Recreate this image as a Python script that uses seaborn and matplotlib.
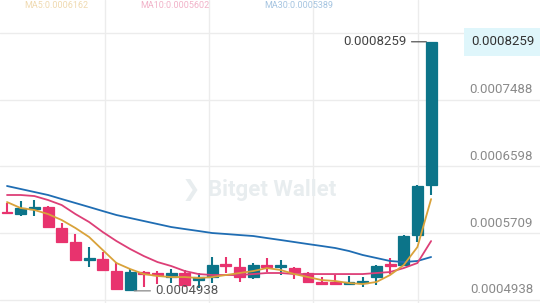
import matplotlib
matplotlib.use("Agg")
import matplotlib.pyplot as plt
import seaborn as sns
import pandas as pd
import numpy as np

# ---- data ----
opens = [0.0005989, 0.0005962, 0.0006029, 0.0006056, 0.0005776, 0.0005589, 0.0005349, 0.0005362,
         0.0005202, 0.0004952, 0.0005189, 0.0005176, 0.0005122, 0.0005176, 0.0005082, 0.0005122,
         0.0005296, 0.0005256, 0.0005122, 0.0005282, 0.0005256, 0.0005242, 0.0005176, 0.0005056,
         0.0005056, 0.0005029, 0.0005042, 0.0005122, 0.0005296, 0.0005282, 0.0005682, 0.0006349]
closes = [0.0005976, 0.0006042, 0.0006056, 0.0005789, 0.0005589, 0.0005349, 0.0005376, 0.0005216,
          0.0004962, 0.0005189, 0.0005162, 0.0005149, 0.0005176, 0.0005016, 0.0005122, 0.0005282,
          0.0005269, 0.0005122, 0.0005282, 0.0005256, 0.0005282, 0.0005189, 0.0005056, 0.0005029,
          0.0005029, 0.0005056, 0.0005069, 0.0005269, 0.0005269, 0.0005669, 0.0006336, 0.0008259]
highs = [0.0006109, 0.0006136, 0.0006149, 0.0006069, 0.0005842, 0.0005696, 0.0005522, 0.0005456,
         0.0005322, 0.0005229, 0.0005202, 0.0005202, 0.0005229, 0.0005216, 0.0005176, 0.0005389,
         0.0005389, 0.0005376, 0.0005309, 0.0005376, 0.0005349, 0.0005256, 0.0005189, 0.0005122,
         0.0005149, 0.0005136, 0.0005122, 0.0005282, 0.0005376, 0.0005682, 0.0006349, 0.0008259]
lows = [0.0005962, 0.0005936, 0.0005936, 0.0005776, 0.0005576, 0.0005336, 0.0005256, 0.0005202,
        0.0004950, 0.0004938, 0.0004989, 0.0005029, 0.0005042, 0.0004989, 0.0004976, 0.0005042,
        0.0005176, 0.0005056, 0.0005096, 0.0005189, 0.0005149, 0.0005096, 0.0005042, 0.0005029,
        0.0005029, 0.0005029, 0.0004989, 0.0005016, 0.0005162, 0.0005269, 0.0005589, 0.0006216]
ma5 = [0.0006122, 0.0006042, 0.0006016, 0.0005962, 0.0005882, 0.0005776, 0.0005656, 0.0005482,
       0.0005309, 0.0005229, 0.0005162, 0.0005136, 0.0005122, 0.0005122, 0.0005109, 0.0005122,
       0.0005149, 0.0005176, 0.0005202, 0.0005242, 0.0005216, 0.0005162, 0.0005122, 0.0005082,
       0.0005069, 0.0005042, 0.0005029, 0.0005056, 0.0005149, 0.0005282, 0.0005522, 0.0006162]
ma10 = [0.0006216, 0.0006216, 0.0006202, 0.0006149, 0.0006082, 0.0005962, 0.0005856, 0.0005722,
        0.0005602, 0.0005496, 0.0005402, 0.0005322, 0.0005269, 0.0005202, 0.0005162, 0.0005149,
        0.0005149, 0.0005149, 0.0005162, 0.0005176, 0.0005176, 0.0005162, 0.0005162, 0.0005162,
        0.0005162, 0.0005162, 0.0005162, 0.0005176, 0.0005189, 0.0005242, 0.0005309, 0.0005602]
ma30 = [0.0006336, 0.0006296, 0.0006256, 0.0006216, 0.0006162, 0.0006109, 0.0006056, 0.0006002,
        0.0005949, 0.0005909, 0.0005869, 0.0005829, 0.0005789, 0.0005762, 0.0005736, 0.0005709,
        0.0005696, 0.0005682, 0.0005669, 0.0005642, 0.0005616, 0.0005589, 0.0005562, 0.0005536,
        0.0005509, 0.0005469, 0.0005416, 0.0005376, 0.0005336, 0.0005322, 0.0005336, 0.0005389]
axis_labels = ["0.0007488", "0.0006598", "0.0005709", "0.0004938"]
grid_prices = [0.0008377, 0.0007488, 0.0006598, 0.0005709, 0.0004819]
last_price = "0.0008259"
max_label = "0.0008259"
min_label = "0.0004938"
legend_texts = ["MA5:0.0006162", "MA10:0.0005602", "MA30:0.0005389"]

UP = "#0c7489"
DOWN = "#e8336e"
C_MA5 = "#d9a23a"
C_MA10 = "#dd3f77"
C_MA30 = "#1f6db3"

sns.set_theme(style="white")
plt.rcParams["font.family"] = ["Roboto", "DejaVu Sans"]

fig = plt.figure(figsize=(5.4, 3.03), dpi=100)
ax = fig.add_axes([0, 0, 1, 1])
ax.set_xlim(-0.512, 38.96)
ax.set_ylim(0.0004776, 0.0008816)
for s in ax.spines.values():
    s.set_visible(False)

# grid
for g in grid_prices:
    ax.axhline(g, color="#ececec", lw=1, zorder=0)
for gx in [7.16, 14.77, 22.37, 30.04]:
    ax.axvline(gx, color="#ececec", lw=1, zorder=0)

# watermark
ax.text(0.337, 0.372, "\u276f", transform=ax.transAxes, fontsize=16, color="#e8edef",
        fontweight="bold", ha="left", va="center", zorder=0, family=["DejaVu Sans"])
ax.text(0.385, 0.372, "Bitget Wallet", transform=ax.transAxes, fontsize=16, color="#e8edef",
        fontweight="bold", ha="left", va="center", zorder=0)

idx = np.arange(len(opens))
df = pd.DataFrame({"i": idx, "open": opens, "close": closes, "high": highs, "low": lows,
                   "MA5": ma5, "MA10": ma10, "MA30": ma30})

# candles
for _, r in df.iterrows():
    col = UP if r["close"] >= r["open"] else DOWN
    ax.vlines(r["i"], r["low"], r["high"], color=col, lw=1.5, zorder=2)
    bottom = min(r["open"], r["close"])
    h = abs(r["close"] - r["open"])
    ax.bar(r["i"], h, bottom=bottom, width=0.8, color=col, edgecolor=col, lw=0.9, zorder=2)

# moving averages
sns.lineplot(data=df, x="i", y="MA30", color=C_MA30, lw=1.3, ax=ax, zorder=3)
sns.lineplot(data=df, x="i", y="MA10", color=C_MA10, lw=1.3, ax=ax, zorder=3)
sns.lineplot(data=df, x="i", y="MA5", color=C_MA5, lw=1.3, ax=ax, zorder=3)
ax.set_xlabel("")
ax.set_ylabel("")
ax.set_xticks([])
ax.set_yticks([])

# right axis labels (sit just above grid lines)
for lab, g in zip(axis_labels, grid_prices[1:]):
    ax.annotate(lab, xy=(1.0, g), xycoords=("axes fraction", "data"), xytext=(-5, 2.5),
                textcoords="offset points", ha="right", va="bottom", fontsize=9.5, color="#8a8a8a")

# last price highlighted label
top_i = int(np.argmax(highs))
ax.annotate(last_price, xy=(1.0, highs[top_i]), xycoords=("axes fraction", "data"), xytext=(-4, 0),
            textcoords="offset points", ha="right", va="center", fontsize=9.5, color="#333333",
            bbox=dict(boxstyle="square,pad=0.55", fc="#dff6fb", ec="none"))

# max annotation
ax.annotate(max_label, xy=(top_i - 0.35, highs[top_i]), xytext=(-14, 0), textcoords="offset points",
            ha="right", va="center", fontsize=9.5, color="#444444",
            arrowprops=dict(arrowstyle="-", color="#555555", lw=0.9, shrinkA=1, shrinkB=0))

# min annotation
low_i = int(np.argmin(lows))
ax.annotate(min_label, xy=(low_i + 0.3, lows[low_i]), xytext=(15, 0), textcoords="offset points",
            ha="left", va="center", fontsize=9.5, color="#555555",
            arrowprops=dict(arrowstyle="-", color="#888888", lw=0.9, shrinkA=1, shrinkB=0))

# faint legend along the top edge
for t, c, xf in zip(legend_texts, [C_MA5, C_MA10, C_MA30], [0.045, 0.26, 0.49]):
    ax.text(xf, 0.998, t, transform=ax.transAxes, fontsize=6.5, color=c, alpha=0.4,
            ha="left", va="top")

fig.savefig("out.png", dpi=100)
